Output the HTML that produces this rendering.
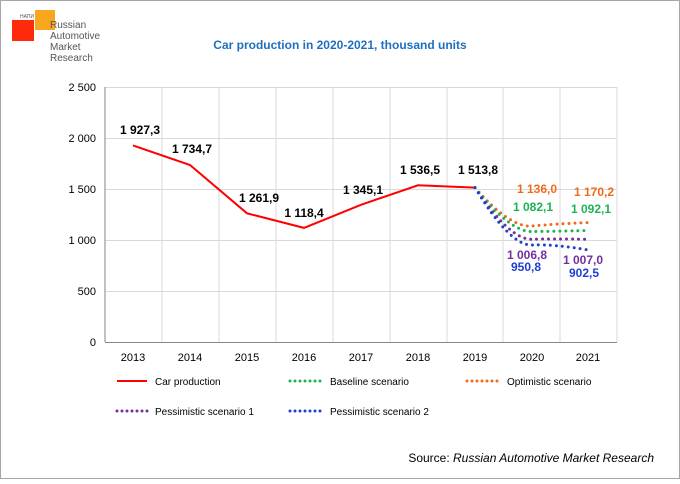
<!DOCTYPE html><html><head><style>body{margin:0}svg text{font-family:"Liberation Sans",Arial,sans-serif}</style></head><body>
<svg width="680" height="479" xmlns="http://www.w3.org/2000/svg">
<rect x="0.5" y="0.5" width="679" height="478" fill="#fff" stroke="#a6a6a6"/>
<rect x="12" y="20" width="22" height="21" fill="#ff2a0a"/>
<rect x="35" y="10" width="20" height="20" fill="#f8a61c"/>
<text x="20" y="18" font-size="5" fill="#555">НАПИ</text>
<g font-size="10" fill="#555"><text x="50" y="28">Russian</text><text x="50" y="39">Automotive</text><text x="50" y="50">Market</text><text x="50" y="61">Research</text></g>
<text x="340" y="49" text-anchor="middle" font-size="12" font-weight="bold" fill="#1f6fc0">Car production in 2020-2021, thousand units</text>
<g stroke="#d9d9d9" stroke-width="1">
<line x1="105" y1="87.5" x2="617" y2="87.5"/><line x1="105" y1="138.5" x2="617" y2="138.5"/><line x1="105" y1="189.5" x2="617" y2="189.5"/><line x1="105" y1="240.5" x2="617" y2="240.5"/><line x1="105" y1="291.5" x2="617" y2="291.5"/>
<line x1="162" y1="87" x2="162" y2="342"/><line x1="219" y1="87" x2="219" y2="342"/><line x1="276" y1="87" x2="276" y2="342"/><line x1="333" y1="87" x2="333" y2="342"/><line x1="390" y1="87" x2="390" y2="342"/><line x1="447" y1="87" x2="447" y2="342"/><line x1="503" y1="87" x2="503" y2="342"/><line x1="560" y1="87" x2="560" y2="342"/><line x1="617" y1="87" x2="617" y2="342"/>
</g>
<line x1="105" y1="87" x2="105" y2="342" stroke="#868686"/>
<line x1="105" y1="342.5" x2="617" y2="342.5" stroke="#868686"/>
<g font-size="11" text-anchor="end" fill="#000"><text x="96" y="91">2 500</text><text x="96" y="142">2 000</text><text x="96" y="193">1 500</text><text x="96" y="244">1 000</text><text x="96" y="295">500</text><text x="96" y="346">0</text></g>
<g font-size="11" text-anchor="middle"><text x="133" y="361">2013</text><text x="190" y="361">2014</text><text x="247" y="361">2015</text><text x="304" y="361">2016</text><text x="361" y="361">2017</text><text x="418" y="361">2018</text><text x="475" y="361">2019</text><text x="532" y="361">2020</text><text x="588" y="361">2021</text></g>
<polyline fill="none" stroke="#ff0000" stroke-width="2" points="133,145.4 190,165 247,213.3 304,227.9 361,204.8 418,185.3 475,187.6"/>
<g fill="none" stroke-width="3" stroke-linecap="round" stroke-dasharray="0 6">
<path d="M475,187.6 Q510,228 532,226 T588,222.6" stroke="#f06a1c"/>
<path d="M475,187.6 Q510,232 532,231.6 T588,230.6" stroke="#1db254"/>
<path d="M475,187.6 Q510,240 532,239.3 T588,239.3" stroke="#7030a0"/>
<path d="M475,187.6 Q510,246 532,245 T588,250" stroke="#1f3fd0"/>
</g>
<g font-size="12" font-weight="bold" text-anchor="middle">
<text x="140" y="134">1 927,3</text><text x="192" y="153">1 734,7</text><text x="259" y="202">1 261,9</text><text x="304" y="217">1 118,4</text><text x="363" y="194">1 345,1</text><text x="420" y="174">1 536,5</text><text x="478" y="174">1 513,8</text>
<text x="537" y="193" fill="#f06a1c">1 136,0</text><text x="594" y="196" fill="#f06a1c">1 170,2</text>
<text x="533" y="211" fill="#1db254">1 082,1</text><text x="591" y="213" fill="#1db254">1 092,1</text>
<text x="527" y="259" fill="#7030a0">1 006,8</text><text x="583" y="264" fill="#7030a0">1 007,0</text>
<text x="526" y="271" fill="#1f3fd0">950,8</text><text x="584" y="277" fill="#1f3fd0">902,5</text>
</g>
<g font-size="10">
<line x1="117" y1="381" x2="147" y2="381" stroke="#ff0000" stroke-width="2"/><text x="155" y="385">Car production</text>
<line x1="290" y1="381" x2="322" y2="381" stroke="#1db254" stroke-width="3" stroke-dasharray="0 5" stroke-linecap="round"/><text x="330" y="385">Baseline scenario</text>
<line x1="467" y1="381" x2="499" y2="381" stroke="#f06a1c" stroke-width="3" stroke-dasharray="0 5" stroke-linecap="round"/><text x="507" y="385">Optimistic scenario</text>
<line x1="117" y1="411" x2="149" y2="411" stroke="#7030a0" stroke-width="3" stroke-dasharray="0 5" stroke-linecap="round"/><text x="155" y="415">Pessimistic scenario 1</text>
<line x1="290" y1="411" x2="322" y2="411" stroke="#1f3fd0" stroke-width="3" stroke-dasharray="0 5" stroke-linecap="round"/><text x="330" y="415">Pessimistic scenario 2</text>
</g>
<text x="654" y="462" font-size="12" text-anchor="end">Source: <tspan font-style="italic">Russian Automotive Market Research</tspan></text>
</svg></body></html>
